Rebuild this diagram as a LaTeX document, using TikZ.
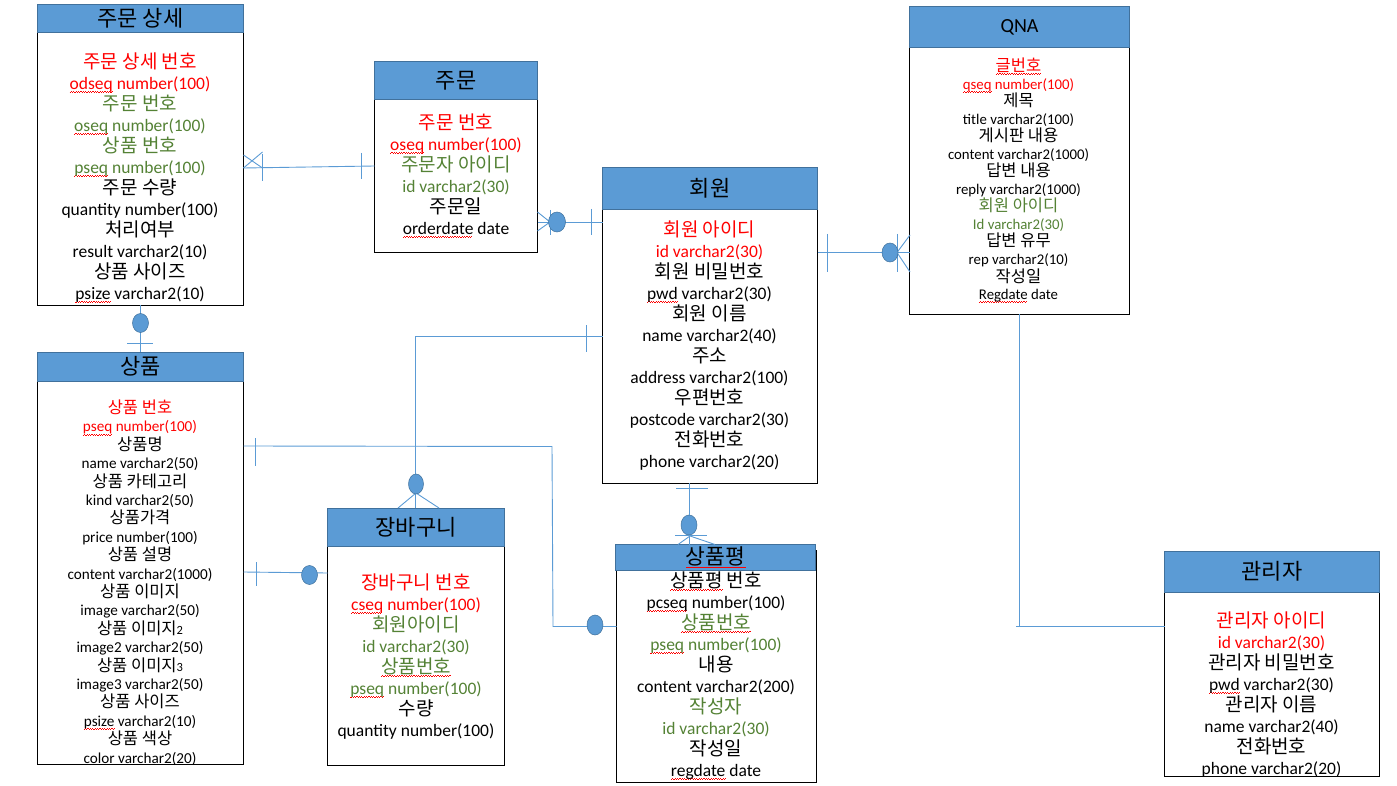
\documentclass[tikz,border=0pt]{standalone}
\usepackage{fontspec}
\usepackage{xcolor}
\usetikzlibrary{shapes.geometric}
\setmainfont{Carlito}
\newfontfamily\krfont{Noto Sans CJK KR}

\definecolor{erblue}{HTML}{5B9BD5}
\definecolor{erdark}{HTML}{41719C}
\definecolor{kgreen}{HTML}{548235}

% red wavy line under a word
\newcount\wavecnt
\newcommand{\waveunit}{\hbox{\rule[0pt]{1.2pt}{0.55pt}\rule[0.9pt]{1.2pt}{0.55pt}}}
\newcommand{\sq}[1]{\setbox0=\hbox{#1}\wavecnt=\numexpr\wd0/157286\relax\leavevmode\rlap{\lower3.2pt\hbox{\color{red}\loop\ifnum\wavecnt>0 \waveunit\advance\wavecnt by -1 \repeat}}\box0 }
\newcommand{\lat}[1]{{\rmfamily\fontsize{12.5}{12.5}\selectfont #1}}

\tikzset{
  x=1pt, y=-1pt,
  header/.style={draw=erdark, fill=erblue, inner sep=0pt, outer sep=0pt, anchor=north west, font=\krfont\fontsize{22}{24}\selectfont},
  bodybox/.style={draw=black, line width=0.9pt, fill=white, inner sep=0pt, outer sep=0pt, anchor=north west},
  bigkr/.style={font=\krfont\fontsize{19}{21}\selectfont, inner sep=0pt, anchor=base},
  bigen/.style={font=\fontsize{17.5}{19}\selectfont, inner sep=0pt, anchor=base},
  smallkr/.style={font=\krfont\fontsize{16.5}{18}\selectfont, inner sep=0pt, anchor=base},
  smallen/.style={font=\fontsize{15.2}{17}\selectfont, inner sep=0pt, anchor=base},
  qnakr/.style={font=\krfont\fontsize{16.5}{18}\selectfont, inner sep=0pt, anchor=base},
  qnaen/.style={font=\fontsize{14.8}{17}\selectfont, inner sep=0pt, anchor=base},
  rel/.style={draw=erblue, line width=0.9pt},
  dot/.style={ellipse, draw=erdark, fill=erblue, inner sep=0pt, line width=0.5pt}
}

% rows of a table: name, x, first baseline, pitch, size, list
\newcommand{\fieldrows}[6]{
  \foreach \rowcol/\rowtxt [count=\i] in {#6} {
    \ifodd\i
      \node[#5kr, text=\rowcol] (#1\i) at (#2, {#3+(\i-1)*#4}) {\rowtxt};
    \else
      \node[#5en, text=\rowcol] (#1\i) at (#2, {#3+(\i-1)*#4}) {\rowtxt};
    \fi
  }
}

\begin{document}
\begin{tikzpicture}
\useasboundingbox (0,0) rectangle (1397,786);

% tables
\node[bodybox, minimum width=206pt, minimum height=273pt] (detail) at (37.5,32) {};
\node[header, minimum width=206pt, minimum height=28pt] (detailhead) at (37.5,4.5) {주문 상세};
\node[bodybox, minimum width=163pt, minimum height=153pt] (order) at (374.5,99) {};
\node[header, minimum width=163pt, minimum height=37.5pt] (orderhead) at (374.5,61.5) {주문};
\node[bodybox, minimum width=215pt, minimum height=274pt] (member) at (602.5,209) {};
\node[header, minimum width=215pt, minimum height=42pt] (memberhead) at (602.5,167) {회원};
\node[bodybox, minimum width=220pt, minimum height=266.5pt] (qna) at (909.5,47.5) {};
\node[header, minimum width=220pt, minimum height=41pt, font=\fontsize{20}{22}\selectfont] (qnahead) at (909.5,6.5) {QNA};
\node[bodybox, minimum width=206pt, minimum height=383pt] (product) at (37.5,381) {};
\node[header, minimum width=206pt, minimum height=29pt] (producthead) at (37.5,352) {상품};
\node[bodybox, minimum width=177pt, minimum height=219pt] (cart) at (327.5,546) {};
\node[header, minimum width=177pt, minimum height=38pt] (carthead) at (327.5,508) {장바구니};
\node[bodybox, minimum width=200pt, minimum height=232pt] (review) at (616.5,550) {};
\node[header, minimum width=200pt, minimum height=26pt, font=\krfont\fontsize{21.5}{23}\selectfont] (reviewhead) at (615.5,544.5) {\sq{상품평}};
\node[bodybox, minimum width=215pt, minimum height=184pt] (admin) at (1164.5,592) {};
\node[header, minimum width=215pt, minimum height=41pt] (adminhead) at (1164.5,551) {관리자};

% rows
\fieldrows{detailrow}{140}{68.7}{21}{big}{red/주문 상세 번호, red/\sq{odseq} number(100), kgreen/주문 번호, kgreen/\sq{oseq} number(100), kgreen/상품 번호, kgreen/\sq{pseq} number(100), black/주문 수량, black/quantity number(100), black/처리여부, black/result varchar2(10), black/상품 사이즈, black/\sq{psize} varchar2(10)}
\fieldrows{orderrow}{456}{129.7}{21}{big}{red/주문 번호, red/\sq{oseq} number(100), kgreen/주문자 아이디, kgreen/id varchar2(30), black/주문일, black/\sq{orderdate} date}
\fieldrows{memberrow}{709.5}{236.7}{21}{big}{red/회원 아이디, red/id varchar2(30), black/회원 비밀번호, black/\sq{pwd} varchar2(30), black/회원 이름, black/name varchar2(40), black/주소, black/address varchar2(100), black/우편번호, black/postcode varchar2(30), black/전화번호, black/phone varchar2(20)}
\fieldrows{qnarow}{1018.5}{71.5}{17.55}{qna}{red/\sq{글번호}, red/\sq{qseq} number(100), black/제목, black/title varchar2(100), black/게시판 내용, black/content varchar2(1000), black/답변 내용, black/reply varchar2(1000), kgreen/회원 아이디, kgreen/Id varchar2(30), black/답변 유무, black/rep varchar2(10), black/작성일, black/\sq{Regdate} date}
\fieldrows{productrow}{140}{413.5}{18.4}{small}{red/상품 번호, red/\sq{pseq} number(100), black/상품명, black/name varchar2(50), black/상품 카테고리, black/kind varchar2(50), black/상품가격, black/price number(100), black/상품 설명, black/content varchar2(1000), black/상품 이미지, black/image varchar2(50), black/상품 이미지\lat{2}, black/image2 varchar2(50), black/상품 이미지\lat{3}, black/image3 varchar2(50), black/상품 사이즈, black/\sq{psize} varchar2(10), black/상품 색상, black/color varchar2(20)}
\fieldrows{cartrow}{416}{589.7}{21}{big}{red/장바구니 번호, red/\sq{cseq} number(100), kgreen/회원아이디, kgreen/id varchar2(30), kgreen/\sq{상품번호}, kgreen/\sq{pseq} number(100), black/수량, black/quantity number(100)}
\fieldrows{reviewrow}{716}{587.7}{21}{big}{black/\sq{상품평} 번호, black/\sq{pcseq} number(100), kgreen/\sq{상품번호}, kgreen/\sq{pseq} number(100), black/내용, black/content varchar2(200), kgreen/작성자, kgreen/id varchar2(30), black/작성일, black/\sq{regdate} date}
\fieldrows{adminrow}{1271.5}{627.7}{21}{big}{red/관리자 아이디, red/id varchar2(30), black/관리자 비밀번호, black/\sq{pwd} varchar2(30), black/관리자 이름, black/name varchar2(40), black/전화번호, black/phone varchar2(20)}

% ports on the table edges
\coordinate (detailport) at (243.5,168);
\coordinate (orderport) at (374.5,166);
\coordinate (orderout) at (537.5,222);
\coordinate (memberin) at (602.5,222);
\coordinate (memberout) at (817.5,252.5);
\coordinate (qnain) at (909.5,252.5);
\coordinate (membercart) at (602.5,336);
\coordinate (cartcorner) at (415.5,336);
\coordinate (productreview) at (243.5,446);
\coordinate (bendtop) at (552,446.5);
\coordinate (bendlow) at (553,626.5);
\coordinate (reviewin) at (616.5,626.5);
\coordinate (productcart) at (243.5,572);
\coordinate (cartin) at (327.5,573);
\coordinate (qnaout) at (1019,314);
\coordinate (qnabend) at (1019,626.5);
\coordinate (adminin) at (1164.5,626.5);

% connectors
\draw[rel] (detailport) -- (orderport);
\draw[rel] (262.5,152) -- (243.5,168) (243.5,155) -- (262.5,168);
\draw[rel] (262.5,154) -- (262.5,181);
\draw[rel] (361,153) -- (361,179);

\draw[rel] (orderout) -- (memberin);
\draw[rel] (537.5,212) -- (550,222) -- (537.5,231);
\draw[rel] (550,210) -- (550,235);
\draw[rel] (591,209) -- (591,235);
\node[dot, minimum width=17pt, minimum height=20pt] (orderdot) at (557,222) {};

\draw[rel] (memberout) -- (qnain);
\draw[rel] (827.5,234) -- (827.5,272);
\draw[rel] (897,234) -- (897,272);
\draw[rel] (910,235) -- (897,252.5) -- (910,272);
\node[dot, minimum width=16pt, minimum height=19pt] (qnadot) at (890,252.5) {};

\draw[rel] (detail.south) -- (producthead.north);
\draw[rel] (127,343) -- (152.5,343);
\node[dot, minimum width=16pt, minimum height=19pt] (detaildot) at (140.5,323) {};

\draw[rel] (membercart) -- (cartcorner) -- (carthead.north -| cartcorner);
\draw[rel] (586,325) -- (586,352);
\draw[rel] (398,508) -- (416,493) -- (439,508);
\node[dot, minimum width=15pt, minimum height=20pt] (cartdot) at (416,484) {};

\draw[rel] (productreview) -- (bendtop) -- (bendlow) -- (reviewin);
\draw[rel] (255,438) -- (255,466);
\node[dot, minimum width=16pt, minimum height=20pt] (reviewdot) at (595,625) {};

\draw[rel] (productcart) -- (cartin);
\draw[rel] (256,562) -- (256,586);
\node[dot, minimum width=16pt, minimum height=19pt] (basketdot) at (309.5,575) {};

\node[dot, minimum width=16pt, minimum height=20pt] (memberdot) at (689,525) {};
\draw[rel] (member.south -| memberdot) -- (memberdot);
\draw[rel] (memberdot) -- (reviewhead.north -| memberdot);
\draw[rel] (676,488) -- (708,488);
\draw[rel] (675,535) -- (707,535);
\draw[rel] (678,544.5) -- (690,536) -- (715,544.5);

\draw[rel] (qnaout) -- (qnabend) -- (adminin);
\draw[rel] (1016,626.5) -- (qnabend);
\end{tikzpicture}
\end{document}
